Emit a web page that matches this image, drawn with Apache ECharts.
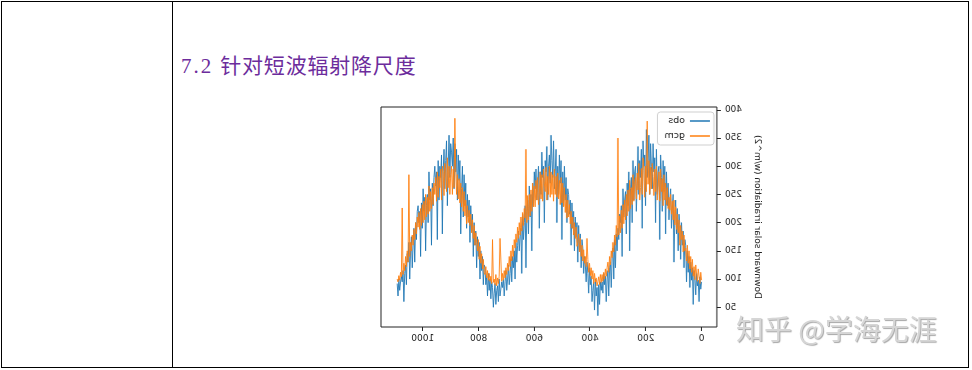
<!DOCTYPE html>
<html>
<head>
<meta charset="utf-8">
<script src="https://cdn.jsdelivr.net/npm/echarts@6/dist/echarts.min.js"></script>
<style>
  html, body { margin: 0; padding: 0; background: #fff; }
  #page { position: relative; width: 972px; height: 370px; overflow: hidden; background: #fff; }
  .ln { position: absolute; background: #000; }
  #title { position: absolute; left: 181px; top: 53px; font-size: 21px; line-height: 22px; color: #6c2c9c;
           font-family: "Noto Sans CJK SC", sans-serif; white-space: nowrap; }
  #title .num { font-family: "Liberation Serif", serif; letter-spacing: 2px; margin-right: 7px; }
  #title .cjk { letter-spacing: 0.8px; }
  #chart { position: absolute; left: 370px; top: 95px; width: 400px; height: 260px; transform: scaleX(-1); }
  #wm { position: absolute; left: 736px; top: 311px; font-size: 28px; line-height: 34px; color: #d6d6d6;
        font-family: "Noto Sans CJK SC", sans-serif; white-space: nowrap; z-index: 5;
        text-shadow: 1px 1px 1px rgba(0,0,0,0.35); }
</style>
</head>
<body>
<div id="page">
  <div class="ln" style="left:1px;top:1px;width:968px;height:1px;"></div>
  <div class="ln" style="left:1px;top:367px;width:968px;height:1px;"></div>
  <div class="ln" style="left:1px;top:1px;width:1px;height:367px;"></div>
  <div class="ln" style="left:172px;top:1px;width:1px;height:367px;"></div>
  <div class="ln" style="left:968px;top:1px;width:1px;height:367px;"></div>
  <div id="title"><span class="num">7.2</span><span class="cjk">针对短波辐射降尺度</span></div>
  <div id="chart"></div>
  <div id="wm">知乎 @学海无涯</div>
</div>
<script>
// samples every 3 days
const dayStep = 3;
const seriesNames = ['obs', 'gcm'];
const xTicks = [0, 200, 400, 600, 800, 1000];
const yTicks = [50, 100, 150, 200, 250, 300, 350, 400];
const yTitle = 'Downward solar irradiation (w/m^2)';

const obs = [
  95,82,104,60,98,88,110,72,100,115,55,120,98,130,85,140,112,150,95,160,
  170,120,185,160,200,135,195,215,150,225,180,240,210,130,250,225,190,260,240,205,
  270,230,290,180,300,255,310,220,280,320,170,300,290,250,330,200,315,290,340,260,
  300,340,250,355,310,280,365,230,320,300,345,190,330,280,310,250,335,270,220,300,
  290,240,310,200,280,260,150,290,230,270,180,255,240,210,260,140,230,200,215,170,
  190,150,180,120,170,100,155,140,85,130,120,70,115,100,60,105,90,110,75,95,
  80,95,55,90,35,85,70,100,45,95,80,60,105,90,120,75,110,130,95,125,
  140,110,155,170,120,180,150,195,130,200,175,210,150,220,190,235,160,240,215,250,
  260,200,280,240,300,230,290,170,310,270,320,250,300,200,330,290,260,345,280,310,
  355,270,320,300,240,335,290,310,200,300,280,325,250,290,190,300,270,240,295,260,
  290,230,270,150,250,210,265,180,240,220,120,230,200,170,215,110,190,175,150,185,
  160,130,165,100,150,120,140,95,135,110,90,125,100,80,115,95,70,100,85,95,
  95,70,100,60,88,80,55,92,75,50,85,95,65,100,80,110,70,105,90,120,
  125,90,140,115,150,100,165,140,175,120,185,160,200,140,215,185,230,165,240,210,
  250,190,270,230,285,210,300,260,180,310,275,320,240,330,290,340,260,350,300,325,
  340,280,355,300,230,345,310,260,330,290,180,320,280,300,240,310,170,290,265,300,
  280,230,270,160,260,240,290,200,250,230,150,245,220,260,190,235,140,220,200,230,
  220,170,200,130,190,160,120,175,150,100,165,130,145,90,125,110,60,115,95,105,
  95,80,100,70,92
];
const gcm = [
  98,112,92,105,118,96,110,125,99,122,105,135,112,140,118,150,128,160,132,155,
  150,178,148,185,170,195,160,205,182,215,188,228,196,240,205,238,215,250,222,245,
  225,262,232,270,240,285,230,278,255,295,238,290,262,240,300,255,295,248,282,305,
  260,298,250,310,268,380,255,300,245,292,315,250,296,262,240,305,258,288,242,280,
  270,238,285,232,262,225,275,220,258,212,250,205,240,198,232,190,222,182,212,178,
  350,175,195,160,178,148,165,138,150,125,140,112,130,120,105,118,100,112,96,108,
  94,108,90,104,96,88,102,95,110,92,115,100,120,106,128,112,135,172,122,140,
  128,152,132,160,140,172,148,180,165,158,192,172,200,178,210,190,220,198,232,210,
  240,208,250,218,262,228,270,235,280,232,275,242,288,245,282,250,295,238,285,250,
  290,245,300,250,282,240,298,255,270,295,238,285,242,290,250,232,280,240,275,228,
  265,228,270,220,258,212,250,205,248,200,330,208,225,195,218,185,210,178,200,172,
  192,165,180,155,170,140,160,132,150,122,140,115,128,108,120,102,115,98,110,96,
  95,172,105,92,102,88,108,90,100,94,170,92,105,96,110,98,115,102,122,108,
  112,135,118,145,128,158,135,170,150,165,182,160,195,172,205,182,215,195,222,200,
  230,198,240,212,255,220,262,228,270,235,278,242,285,250,290,385,262,295,250,300,
  285,250,300,262,315,255,292,305,248,288,300,240,295,262,282,245,290,238,280,250,
  270,232,262,225,255,220,265,215,245,210,250,205,238,200,232,195,225,188,218,192,
  210,180,200,170,188,160,178,150,165,140,285,130,150,122,140,115,128,108,226,104,
  112,98,106,95,100
];

const toPairs = arr => arr.map((v, i) => [i * dayStep, v]);
const font = 'DejaVu Sans';
const chart = echarts.init(document.getElementById('chart'), null, { renderer: 'canvas' });
chart.setOption({
  animation: false,
  grid: { left: 51, right: 11, top: 12, bottom: 28, show: true, borderColor: '#222', borderWidth: 1, backgroundColor: 'transparent' },
  legend: {
    data: seriesNames, orient: 'vertical', left: 56, top: 17,
    icon: 'rect', itemWidth: 20, itemHeight: 1.5, itemGap: 5,
    padding: [4, 7, 4, 4], borderColor: '#cfcfcf', borderWidth: 1, borderRadius: 3,
    backgroundColor: 'rgba(255,255,255,0.85)',
    textStyle: { fontFamily: font, fontSize: 9.5, color: '#222' }
  },
  xAxis: {
    type: 'value', min: -55, max: 1150,
    axisLine: { show: false, onZero: false },
    splitLine: { show: false },
    axisTick: { show: true, inside: false, length: 4, lineStyle: { color: '#222' }, customValues: xTicks },
    axisLabel: { fontFamily: font, fontSize: 9, color: '#222', margin: 7, customValues: xTicks,
                 formatter: v => String(v) }
  },
  yAxis: {
    type: 'value', min: 15, max: 405,
    name: yTitle, nameLocation: 'middle', nameGap: 26, nameRotate: 90,
    nameTextStyle: { fontFamily: font, fontSize: 9, color: '#222' },
    axisLine: { show: false, onZero: false },
    splitLine: { show: false },
    axisTick: { show: true, inside: false, length: 4, lineStyle: { color: '#222' }, customValues: yTicks },
    axisLabel: { fontFamily: font, fontSize: 9, color: '#222', margin: 8, customValues: yTicks,
                 formatter: v => String(v) }
  },
  series: [
    { name: 'obs', type: 'line', data: toPairs(obs), symbol: 'none', sampling: null,
      lineStyle: { color: '#1f77b4', width: 0.9 }, itemStyle: { color: '#1f77b4' }, z: 2 },
    { name: 'gcm', type: 'line', data: toPairs(gcm), symbol: 'none', sampling: null,
      lineStyle: { color: '#ff7f0e', width: 0.9 }, itemStyle: { color: '#ff7f0e' }, z: 3 }
  ]
});
</script>
</body>
</html>
